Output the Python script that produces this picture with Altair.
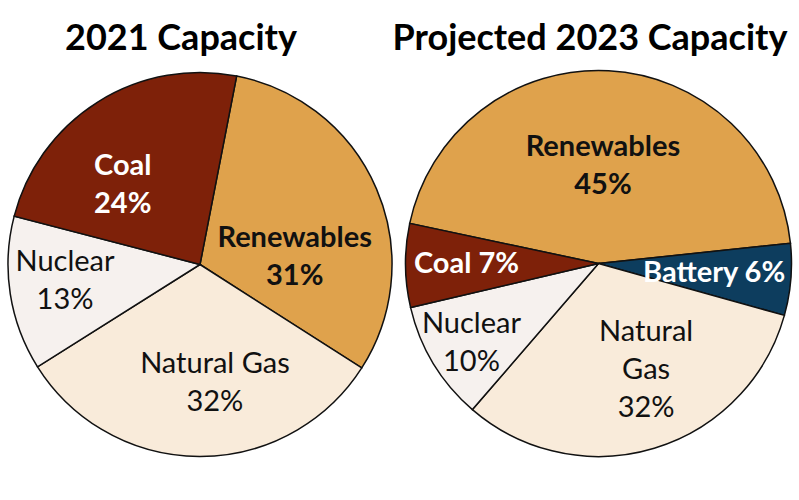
import math
import altair as alt
import pandas as pd

# ---- data ----
cats_2021 = ["Renewables", "Natural Gas", "Nuclear", "Coal"]
vals_2021 = [31, 32, 13, 24]
cats_2023 = ["Renewables", "Battery", "Natural Gas", "Nuclear", "Coal"]
vals_2023 = [45, 6, 32, 10, 7]
titles = ["2021 Capacity", "Projected 2023 Capacity"]

# ---- styling / layout ----
color_domain = ["Renewables", "Natural Gas", "Nuclear", "Coal", "Battery"]
color_range = ["#DFA24C", "#F9EBDA", "#F6F1EE", "#7E2109", "#0D3D5E"]
FONT = "Lato"
W, H = 799, 500
LINE_H = 38
pies = [
    dict(cx=200, cy=264.5, r=192, start=11.0, title_x=181),
    dict(cx=598.5, cy=263.5, r=193, start=282.0, title_x=590),
]
# label placement: angular nudge (deg) from slice middle, radius (px), style
label_place = [
    {"Renewables": (18.7, 95, "bb", "Renewables\n{p}%"),
     "Natural Gas": (-7.4, 119, "bn", "Natural Gas\n{p}%"),
     "Nuclear": (1.8, 136, "bn", "Nuclear\n{p}%"),
     "Coal": (-11.9, 111, "wb", "Coal\n{p}%")},
    {"Renewables": (-0.4, 98, "bb", "Renewables\n{p}%"),
     "Battery": (0.0, 116, "wb", "Battery {p}%"),
     "Natural Gas": (-7.2, 117, "bn", "Natural\nGas\n{p}%"),
     "Nuclear": (-0.9, 150, "bn", "Nuclear\n{p}%"),
     "Coal": (0.2, 132, "wb", "Coal {p}%")},
]

layers = []
label_rows = []
for i, (cats, vals) in enumerate([(cats_2021, vals_2021), (cats_2023, vals_2023)]):
    p = pies[i]
    df = pd.DataFrame({"cat": cats, "value": vals, "ord": list(range(len(cats)))})
    s = math.radians(p["start"])
    arc = alt.Chart(df).mark_arc(
        radius=p["r"], stroke="#111111", strokeWidth=1.5
    ).encode(
        theta=alt.Theta("value:Q", stack=True,
                        scale=alt.Scale(domain=[0, sum(vals)], range=[s, s + 2 * math.pi])),
        color=alt.Color("cat:N", scale=alt.Scale(domain=color_domain, range=color_range),
                        legend=None),
        order=alt.Order("ord:Q"),
        x=alt.value(p["cx"]),
        y=alt.value(p["cy"]),
    )
    layers.append(arc)
    total = sum(vals)
    cum = 0
    for c, v in zip(cats, vals):
        mid = p["start"] + (cum + v / 2) / total * 360
        cum += v
        nudge, rad, style, fmt = label_place[i][c]
        a = math.radians(mid + nudge)
        txt = fmt.format(p=v)
        nlines = txt.count("\n") + 1
        label_rows.append({
            "px": p["cx"] + rad * math.sin(a),
            "py": p["cy"] - rad * math.cos(a) - (nlines - 1) * LINE_H / 2,
            "style": style,
            "txt": txt,
        })

labels = pd.DataFrame(label_rows)
styles = {
    "bb": dict(color="#111111", fontWeight="bold"),
    "bn": dict(color="#111111", fontWeight="normal"),
    "wb": dict(color="#FFFFFF", fontWeight="bold"),
}
for key, st in styles.items():
    layers.append(
        alt.Chart(labels).transform_filter(alt.datum.style == key).mark_text(
            font=FONT, fontSize=29, lineBreak="\n", lineHeight=LINE_H,
            align="center", baseline="middle", **st
        ).encode(
            x=alt.X("px:Q", scale=None),
            y=alt.Y("py:Q", scale=None),
            text="txt:N",
        )
    )

for i, t in enumerate(titles):
    layers.append(
        alt.Chart(pd.DataFrame({"t": [t]})).mark_text(
            font=FONT, fontSize=36, fontWeight="bold", color="#000000",
            align="center", baseline="alphabetic"
        ).encode(
            x=alt.value(pies[i]["title_x"]),
            y=alt.value(50),
            text="t:N",
        )
    )

chart = alt.layer(*layers).resolve_scale(theta="independent").properties(
    width=W, height=H, autosize=alt.AutoSizeParams(type="none"), padding=0
).configure_view(stroke=None)

chart.save("out.html", embed_options={"renderer": "svg", "actions": False})
